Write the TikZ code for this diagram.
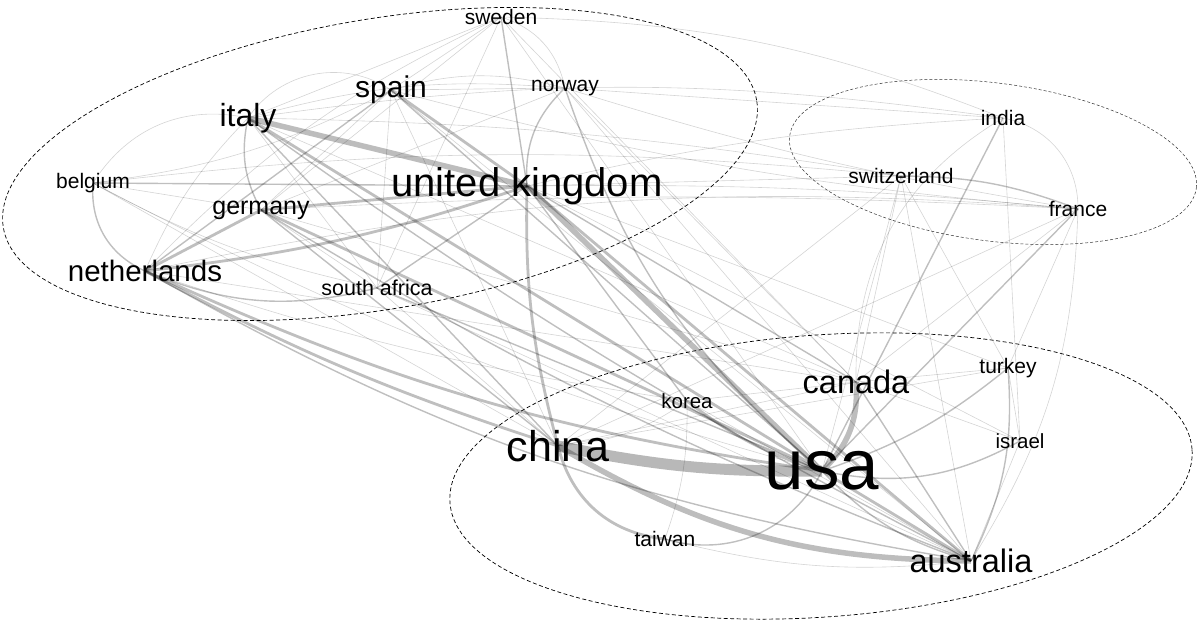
\documentclass[tikz,border=0pt]{standalone}
\usepackage{fontspec}
\setmainfont{Liberation Sans}
\usetikzlibrary{backgrounds}

\begin{document}
\begin{tikzpicture}[
  x=1pt, y=1pt,
  cty/.style={inner sep=0pt, font=\fontsize{#1}{#1}\selectfont},
  cty/.default=21,
  lk/.style={draw=black, draw opacity=.17, line width=.6pt},
  lkm/.style={draw=black, draw opacity=.25, line width=1.4pt},
  lkt/.style={draw=black, draw opacity=.25, line width=2.8pt},
  lkh/.style={draw=black, draw opacity=.26, line width=5.5pt},
  lkx/.style={draw=black, draw opacity=.28, line width=11pt},
  group/.style={draw=black, dash pattern=on 4pt off 2.5pt, line width=.7pt}
]
\useasboundingbox (0,0) rectangle (1200,-626);

% countries
\node[cty] (swe) at (501,-17) {sweden};
\node[cty] (nor) at (565,-88) {norway};
\node[cty=30] (spa) at (391,-90) {spain};
\node[cty=32] (ita) at (248,-118) {italy};
\node[cty] (bel) at (93,-183) {belgium};
\node[cty=25] (ger) at (261,-210) {germany};
\node[cty=29.5] (net) at (145,-271) {netherlands};
\node[cty=21.5] (saf) at (377,-288) {south africa};
\node[cty=40] (uk) at (527,-186) {united kingdom};
\node[cty] (ind) at (1003,-118) {india};
\node[cty] (swi) at (901,-176) {switzerland};
\node[cty] (fra) at (1078,-209) {france};
\node[cty=20.5] (kor) at (687,-401) {korea};
\node[cty=43] (chn) at (558,-446) {china};
\node[cty=71] (usa) at (822,-471) {usa};
\node[cty] (twn) at (665,-539) {taiwan};
\node[cty=32.5] (can) at (856,-382) {canada};
\node[cty] (tur) at (1008,-368) {turkey};
\node[cty=20.5] (isr) at (1020,-441) {israel};
\node[cty=32.5] (aus) at (971,-561) {australia};

\begin{scope}[on background layer]
% links inside the european group
\draw[lkh] (ita.center) -- (uk.center);
\draw[lkm] (ita.center) to[bend right=20] (ger.center);
\draw[lk] (ita.center) to[bend right=35] (bel.center);
\draw[lk] (ita.center) to[bend right=10] (net.center);
\draw[lk] (ita.center) -- (saf.center);
\draw[lk] (spa.center) to[bend right=45] (ita.center);
\draw[lkm] (spa.center) -- (net.center);
\draw[lk] (spa.center) -- (ger.center);
\draw[lkt] (spa.center) -- (uk.center);
\draw[lk] (spa.center) -- (saf.center);
\draw[lk] (spa.center) to[bend left=10] (bel.center);
\draw[lk] (spa.center) to[bend left=15] (nor.center);
\draw[lkm] (bel.center) -- (uk.center);
\draw[lkm] (bel.center) to[bend right=35] (net.center);
\draw[lk] (bel.center) -- (ger.center);
\draw[lk] (bel.center) to[bend right=8] (saf.center);
\draw[lkt] (ger.center) -- (uk.center);
\draw[lk] (ger.center) -- (saf.center);
\draw[lkt] (net.center) -- (ger.center);
\draw[lkt] (net.center) to[bend right=6] (uk.center);
\draw[lkm] (net.center) to[bend right=18] (saf.center);
\draw[lkm] (saf.center) -- (uk.center);
\draw[lkm] (swe.center) -- (uk.center);
\draw[lk] (swe.center) to[bend left=30] (nor.center);
\draw[lk] (swe.center) -- (spa.center);
\draw[lk] (swe.center) -- (ita.center);
\draw[lk] (swe.center) -- (ger.center);
\draw[lk] (swe.center) -- (saf.center);
\draw[lk] (swe.center) to[bend right=10] (net.center);
\draw[lkm] (nor.center) to[bend right=25] (uk.center);
\draw[lk] (nor.center) -- (spa.center);
\draw[lk] (nor.center) to[bend right=10] (ita.center);
\draw[lk] (nor.center) -- (ger.center);

% europe to the india group
\draw[lk] (uk.center) to[bend left=3] (fra.center);
\draw[lk] (uk.center) -- (swi.center);
\draw[lk] (uk.center) to[bend left=5] (ind.center);
\draw[lk] (spa.center) to[bend right=5] (fra.center);
\draw[lk] (ita.center) to[bend left=4] (swi.center);
\draw[lk] (ger.center) to[bend left=3] (fra.center);
\draw[lk] (bel.center) to[bend left=6] (swi.center);
\draw[lk] (nor.center) to[bend right=4] (fra.center);
\draw[lk] (nor.center) -- (ind.center);
\draw[lk] (swe.center) to[bend left=10] (ind.center);
\draw[lk] (net.center) to[bend left=8] (fra.center);
\draw[lk] (ita.center) to[bend left=8] (ind.center);

% inside the india group and down from it
\draw[lk] (ind.center) to[bend left=40] (fra.center);
\draw[lkm] (swi.center) to[bend left=10] (fra.center);
\draw[lkm] (ind.center) -- (usa.center);
\draw[lk] (ind.center) to[bend right=30] (can.center);
\draw[lk] (ind.center) -- (isr.center);
\draw[lkm] (fra.center) -- (usa.center);
\draw[lk] (fra.center) to[bend left=15] (aus.center);
\draw[lk] (fra.center) -- (can.center);
\draw[lk] (fra.center) -- (tur.center);
\draw[lk] (fra.center) -- (chn.center);
\draw[lk] (swi.center) -- (usa.center);
\draw[lk] (swi.center) -- (can.center);
\draw[lk] (swi.center) -- (aus.center);
\draw[lk] (swi.center) -- (chn.center);
\draw[lk] (swi.center) -- (tur.center);

% europe to the pacific group
\draw[lkx] (chn.center) to[bend right=6] (usa.center);
\draw[lkh] (chn.center) to[bend right=15] (aus.center);
\draw[lkh] (uk.center) -- (usa.center);
\draw[lkt] (uk.center) to[bend right=8] (chn.center);
\draw[lkt] (uk.center) -- (aus.center);
\draw[lkm] (uk.center) -- (can.center);
\draw[lkm] (uk.center) -- (kor.center);
\draw[lk] (uk.center) -- (tur.center);
\draw[lk] (uk.center) -- (isr.center);
\draw[lkt] (ita.center) -- (usa.center);
\draw[lkm] (ita.center) -- (chn.center);
\draw[lkm] (ita.center) to[bend right=4] (aus.center);
\draw[lk] (ita.center) -- (can.center);
\draw[lkt] (net.center) to[bend right=8] (usa.center);
\draw[lkt] (net.center) to[bend right=5] (chn.center);
\draw[lkm] (net.center) to[bend right=10] (aus.center);
\draw[lk] (net.center) -- (can.center);
\draw[lk] (net.center) to[bend right=5] (kor.center);
\draw[lkt] (ger.center) -- (usa.center);
\draw[lkm] (ger.center) -- (chn.center);
\draw[lkm] (ger.center) to[bend right=5] (aus.center);
\draw[lk] (ger.center) -- (can.center);
\draw[lkm] (spa.center) -- (usa.center);
\draw[lk] (spa.center) -- (chn.center);
\draw[lk] (spa.center) -- (aus.center);
\draw[lk] (bel.center) to[bend right=6] (usa.center);
\draw[lk] (bel.center) -- (chn.center);
\draw[lkm] (saf.center) -- (usa.center);
\draw[lk] (saf.center) -- (aus.center);
\draw[lk] (saf.center) -- (chn.center);
\draw[lkm] (nor.center) to[bend right=15] (usa.center);
\draw[lk] (nor.center) -- (aus.center);
\draw[lk] (nor.center) -- (can.center);
\draw[lk] (swe.center) -- (usa.center);
\draw[lk] (swe.center) -- (can.center);

% inside the pacific group
\draw[lkh] (can.center) to[bend left=25] (usa.center);
\draw[lkm] (can.center) -- (aus.center);
\draw[lk] (can.center) -- (tur.center);
\draw[lk] (can.center) -- (kor.center);
\draw[lk] (can.center) -- (isr.center);
\draw[lk] (can.center) -- (chn.center);
\draw[lkt] (usa.center) -- (aus.center);
\draw[lkm] (usa.center) to[bend right=15] (aus.center);
\draw[lkm] (tur.center) to[bend left=10] (usa.center);
\draw[lkm] (tur.center) to[bend left=15] (aus.center);
\draw[lkm] (isr.center) to[bend left=20] (usa.center);
\draw[lk] (isr.center) -- (aus.center);
\draw[lk] (tur.center) -- (isr.center);
\draw[lkt] (kor.center) to[bend right=10] (usa.center);
\draw[lk] (kor.center) to[bend left=15] (chn.center);
\draw[lk] (kor.center) to[bend left=10] (twn.center);
\draw[lk] (kor.center) -- (aus.center);
\draw[lkt] (chn.center) to[bend right=35] (twn.center);
\draw[lkm] (twn.center) to[bend right=40] (usa.center);
\draw[lk] (twn.center) to[bend right=10] (aus.center);
\draw[lk] (chn.center) -- (tur.center);

% groups
\draw[group] (380,-164) circle [x radius=382, y radius=145, rotate=9.6];
\draw[group, line width=.5pt, dash pattern=on 3pt off 2pt, draw=black!80] (993,-162) circle [x radius=205, y radius=79, rotate=-7.3];
\draw[group] (821,-476) circle [x radius=372, y radius=141, rotate=4.1];
\end{scope}
\end{tikzpicture}
\end{document}
